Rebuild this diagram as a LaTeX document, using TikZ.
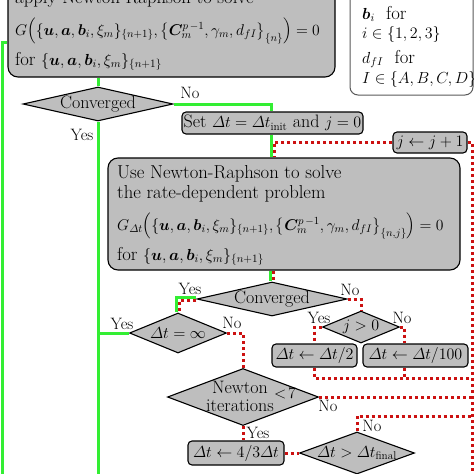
\RequirePackage{fix-cm}
\documentclass[tikz,border=0pt]{standalone}
\usepackage{amsmath,bm}
\usetikzlibrary{shapes.geometric,calc}
\definecolor{flowgreen}{HTML}{33EE33}
\definecolor{flowred}{HTML}{CC1111}
\definecolor{boxgray}{HTML}{BEBEBE}
\newcommand{\mathsz}{\fontsize{16}{20}\selectfont}
\newcommand{\gmathsz}{\fontsize{15.6}{20}\selectfont}
\begin{document}
\begin{tikzpicture}[x=1pt,y=-1pt,
 every node/.append style={font=\fontsize{18}{20}\selectfont},
 box/.style={draw=black, line width=1.1pt, fill=boxgray, rounded corners=10pt, inner sep=0pt},
 ibox/.style={draw=black!65, line width=1pt, fill=white, rounded corners=8pt, inner sep=0pt},
 sbox/.style={draw=black, line width=1.1pt, fill=boxgray, rounded corners=4pt, inner sep=0pt},
 dia/.style={diamond, draw=black, line width=1.1pt, fill=boxgray, inner sep=0pt},
 gline/.style={draw=flowgreen, line width=3pt},
 rline/.style={draw=flowred, line width=3pt, dash pattern=on 3pt off 3pt},
 txt/.style={inner sep=0pt, anchor=base west, font=\fontsize{18.7}{20}\selectfont},
 lbl/.style={inner sep=0pt, font=\fontsize{16.5}{18}\selectfont}]
\useasboundingbox (0,0) rectangle (474,474);
\clip (0,0) rectangle (474,474);

% boxes
\node[box, minimum width=327pt, minimum height=100pt] (top) at (171.5,27) {};
\node[txt] (t1a) at (15,3) {apply Newton-Raphson to solve};
\node[txt, font=\gmathsz] (t1b) at (15,35) {$G\Big(\{\bm u,\bm a,\bm b_i,\xi_m\}_{\{n+1\}},\big\{\bm C_m^{p\,-1},\gamma_m,d_{fI}\big\}_{\{n\}}\Big)=0$};
\node[txt] (t1c) at (15,65) {for {\mathsz$\{\bm u,\bm a,\bm b_i,\xi_m\}_{\{n+1\}}$}};

\node[ibox, minimum width=123pt, minimum height=120pt] (info) at (411.5,35) {};
\node[txt] (i1) at (362,19) {{\mathsz$\bm b_i$}\ \ for};
\node[txt, font=\mathsz] (i2) at (362,38) {$i\in\{1,2,3\}$};
\node[txt] (i3) at (362,63) {{\mathsz$d_{fI}$}\ \ for};
\node[txt, font=\mathsz] (i4) at (362,83) {$I\in\{A,B,C,D\}$};

\node[dia, minimum width=150pt, minimum height=34pt, label={center:{Converged}}] (c1) at (98,104) {};
\node[sbox, minimum width=181pt, minimum height=22pt] (set) at (272.5,123) {Set {\mathsz$\varDelta t=\varDelta t_{\text{init}}$} and {\mathsz$j=0$}};
\node[sbox, minimum width=74pt, minimum height=21pt, font=\mathsz] (jinc) at (430,142.5) {$j\leftarrow j+1$};

\node[box, minimum width=352pt, minimum height=112pt] (big) at (284,214) {};
\node[txt] (b1) at (117,178) {Use Newton-Raphson to solve};
\node[txt] (b2) at (117,198) {the rate-dependent problem};
\node[txt, font=\gmathsz] (b3) at (117,230) {$G_{\varDelta t}\Big(\{\bm u,\bm a,\bm b_i,\xi_m\}_{\{n+1\}},\big\{\bm C_m^{p\,-1},\gamma_m,d_{fI}\big\}_{\{n,j\}}\Big)=0$};
\node[txt] (b4) at (117,260) {for {\mathsz$\{\bm u,\bm a,\bm b_i,\xi_m\}_{\{n+1\}}$}};

\node[dia, minimum width=150pt, minimum height=34pt, label={center:{Converged}}] (c2) at (272,299) {};
\node[dia, minimum width=97pt, minimum height=40pt, label={[font=\mathsz]center:{$\varDelta t=\infty$}}] (inf) at (178,333) {};
\node[dia, minimum width=77pt, minimum height=32pt, label={[font=\mathsz]center:{$j>0$}}] (jpos) at (361,327) {};
\node[sbox, minimum width=85pt, minimum height=23pt, font=\mathsz] (half) at (314.5,355.5) {$\varDelta t\leftarrow\varDelta t/2$};
\node[sbox, minimum width=105pt, minimum height=23pt, font=\mathsz] (hund) at (415.5,355.5) {$\varDelta t\leftarrow\varDelta t/100$};
\node[dia, minimum width=151pt, minimum height=57pt] (newt) at (243,397) {};
\node[align=center, inner sep=0pt, font=\fontsize{18}{18}\selectfont] (newtt) at (240,396) {Newton\\iterations};
\node[inner sep=0pt, font=\mathsz] (lt7) at (285,394) {$<\!7$};
\node[sbox, minimum width=96pt, minimum height=24pt, font=\mathsz] (inc) at (236,453) {$\varDelta t\leftarrow 4/3\varDelta t$};
\node[dia, minimum width=115pt, minimum height=42pt, label={[font=\mathsz]center:{$\varDelta t>\varDelta t_{\text{final}}$}}] (fin) at (357,453) {};

\coordinate (rr) at (472,480);
\coordinate (gl) at (2,480);
\coordinate (gm) at (98,480);
\coordinate (m1) at (472,378);
\coordinate (m3) at (472,416);

% green connectors
\draw[gline] (gl) |- (top.west |- 0,42);
\draw[gline] (c1.north |- top.south) -- (c1.north);
\draw[gline] (c1.east) -| ([xshift=-1.5pt]set.north);
\draw[gline] (c1.south) -- (gm);
\draw[gline] (inf.west) -- (c1.south |- inf.west);
\draw[gline] ([xshift=-1.5pt]set.south) -- ([xshift=-1.5pt]set.south |- big.north);
\draw[gline] ([xshift=-2pt]c2.north |- big.south) -- ([xshift=-2pt]c2.north);
\draw[gline] ([yshift=1.5pt]c2.west) -| ([xshift=-1.5pt]inf.north);

% red connectors
\draw[rline] (jinc.west) -| ([xshift=1.5pt]set.south |- big.north);
\draw[rline] ([xshift=1.5pt]c2.north |- big.south) -- ([xshift=1.5pt]c2.north);
\draw[rline] ([yshift=-1.5pt]c2.west) -| ([xshift=1.5pt]inf.north);
\draw[rline] (jinc.east) -| (rr);
\draw[rline] (c2.east) -| (jpos.north);
\draw[rline] (jpos.west) -| (half.north);
\draw[rline] (jpos.east) -| ([xshift=-11pt]hund.north);
\draw[rline] (half.south) |- (m1);
\draw[rline] ([xshift=-11pt]hund.south) -- ([xshift=-11pt]hund.south |- m1);
\draw[rline] (inf.east) -| (newt.north);
\draw[rline] (newt.east) -- (newt.east -| rr);
\draw[rline] (newt.south) -- (newt.south |- inc.north);
\draw[rline] (inc.east) -- (fin.west);
\draw[rline] (fin.north) |- (m3);

% labels
\node[lbl] (l1) at (190,93) {No};
\node[lbl] (l2) at (82,135) {Yes};
\node[lbl] (l3) at (190,289) {Yes};
\node[lbl] (l4) at (350,290) {No};
\node[lbl] (l5) at (319,318) {Yes};
\node[lbl] (l6) at (402,318) {No};
\node[lbl] (l7) at (122,324) {Yes};
\node[lbl] (l8) at (232,323) {No};
\node[lbl] (l9) at (328,406) {No};
\node[lbl] (l10) at (258,433) {Yes};
\node[lbl] (l11) at (372,426) {No};
\end{tikzpicture}
\end{document}
